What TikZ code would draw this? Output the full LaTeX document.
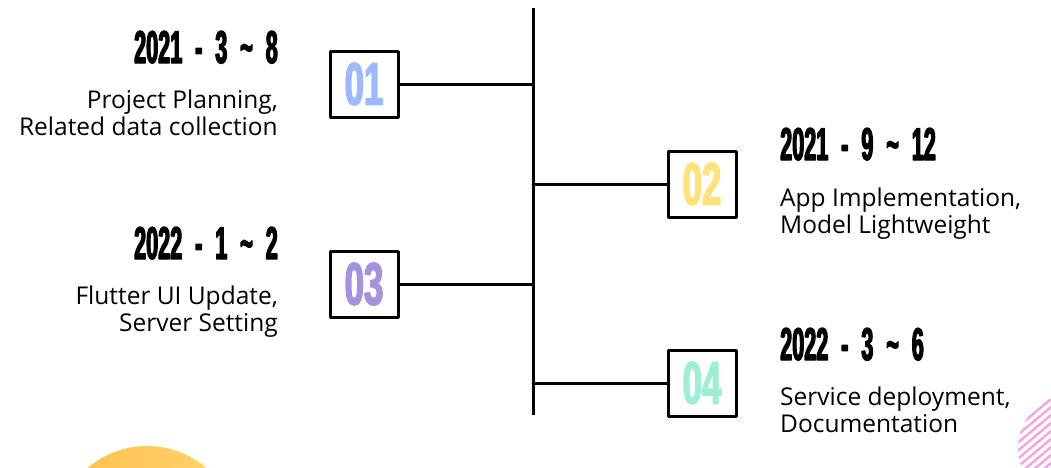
\documentclass[tikz,border=0pt]{standalone}
\usepackage{fontspec}
\setmainfont{Open Sans}
\newfontfamily\datefont[FakeStretch=0.47,FakeBold=2.6,WordSpace=2.15]{Liberation Sans Bold}
\newfontfamily\numfont[FakeStretch=0.58,FakeBold=2.4]{Liberation Sans Bold}
\usetikzlibrary{positioning}

\definecolor{numblue}{HTML}{9FB9FF}
\definecolor{numyellow}{HTML}{FFE37A}
\definecolor{numpurple}{HTML}{A592DE}
\definecolor{numgreen}{HTML}{9EEED4}
\definecolor{sunleft}{HTML}{FFBC4D}
\definecolor{sunright}{HTML}{FFD66E}
\definecolor{stripepink}{HTML}{F7A3E3}

\tikzset{
  numbox/.style={draw=black, line width=3pt, minimum width=68pt, minimum height=66pt, inner sep=0pt, font=\numfont\fontsize{60}{60}\selectfont},
  spine/.style={line width=3pt},
  datetxt/.style={inner sep=0pt, font=\datefont\fontsize{46}{46}\selectfont},
  desc/.style={inner sep=0pt, font=\fontsize{24.5}{27}\selectfont},
  stripe/.style={stripepink, line width=2.4pt}
}

\begin{document}
\begin{tikzpicture}[x=1pt,y=-1pt,line cap=round,line join=round]
\useasboundingbox (0,0) rectangle (1051,467);

% Background decoration
\begin{scope}
\clip (0,0) rectangle (1051,467);
\shade[left color=sunleft, right color=sunright] (147,537) circle (91);
\clip (1072,448) circle (54);
\foreach \k in {0,...,22}
  \draw[stripe] (990,370+\k*8) -- ++(110,-92);
\end{scope}

% Spine
\coordinate (top) at (533,8);
\coordinate (bot) at (533,415);
\draw[spine, line cap=butt] (top) -- (bot);

% Boxes
\foreach \i/\x/\y/\col in {
  1/364/84/numblue,
  2/702/184/numyellow,
  3/364/284/numpurple,
  4/702/383/numgreen} {
  \node[numbox, text=\col] (b\i) at (\x,\y) {0\i};
}

% Connectors
\draw[spine] (b1.east) -- (b1.east -| top);
\draw[spine] (b2.west) -- (b2.west -| top);
\draw[spine] (b3.east) -- (b3.east -| top);
\draw[spine] (b4.west) -- (b4.west -| top);

% Dates
\node[datetxt, anchor=base east] (d1) at (278,63) {2021 - 3 \textasciitilde{} 8};
\node[datetxt, anchor=base west] (d2) at (780,160) {2021 - 9 \textasciitilde{} 12};
\node[datetxt, anchor=base east] (d3) at (278,259) {2022 - 1 \textasciitilde{} 2};
\node[datetxt, anchor=base west] (d4) at (780,360) {2022 - 3 \textasciitilde{} 6};

% Descriptions (base = last line)
\node[desc, anchor=base east, align=right] (t1) at (278,135) {Project Planning,\\Related data collection};
\node[desc, anchor=base west, align=left] (t2) at (780,233) {App Implementation,\\Model Lightweight};
\node[desc, anchor=base east, align=right] (t3) at (278,331) {Flutter UI Update,\\Server Setting};
\node[desc, anchor=base west, align=left] (t4) at (780,432) {Service deployment,\\Documentation};

\end{tikzpicture}
\end{document}
